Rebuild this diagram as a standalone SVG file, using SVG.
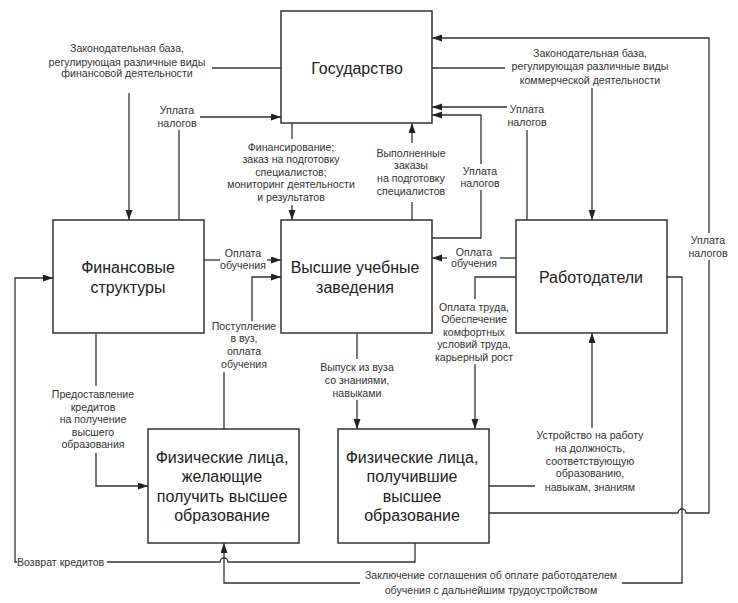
<svg xmlns="http://www.w3.org/2000/svg" width="738" height="603" viewBox="0 0 738 603">
<style>
.box{fill:#fff;stroke:#333;stroke-width:1.5}
.bt{font-family:"Liberation Sans",Arial,sans-serif;font-size:16px;fill:#222;text-anchor:middle}
.lt{font-family:"Liberation Sans",Arial,sans-serif;font-size:10.6px;fill:#333;text-anchor:middle}
.c{fill:none;stroke:#333;stroke-width:1.3}
.a{marker-end:url(#ar)}
</style>
<defs>
<marker id="ar" markerUnits="userSpaceOnUse" markerWidth="10" markerHeight="8" refX="10" refY="3.5" orient="auto">
<path d="M0,0 L10,3.5 L0,7 z" fill="#222"/>
</marker>
</defs>
<rect width="738" height="603" fill="#fff"/>

<g id="connectors">
<!-- Законодательная база (финансовой) -->
<path class="c" d="M281,68 H212"/>
<path class="c a" d="M129,93 V220"/>
<!-- Уплата налогов (Фин -> Гос) -->
<path class="c" d="M179,220 V130"/>
<path class="c a" d="M200,117 H281"/>
<!-- Финансирование -->
<path class="c" d="M292,123 V139"/>
<path class="c a" d="M292,205 V220"/>
<!-- Выполненные заказы -->
<path class="c" d="M412,220 V202"/>
<path class="c a" d="M412,143 V123"/>
<!-- Уплата налогов (ВУЗ -> Гос) -->
<path class="c" d="M432,238 H481 V190"/>
<path class="c a" d="M481,164 V115 H432"/>
<!-- Законодательная база (коммерческой) -->
<path class="c" d="M432,68 H505"/>
<path class="c a" d="M592,88 V220"/>
<!-- Уплата налогов (Работодатели -> Гос) -->
<path class="c" d="M527,220 V130"/>
<path class="c a" d="M507,107 H432"/>
<!-- Уплата налогов (Физ. получившие -> Гос) -->
<path class="c" d="M489,513 H678 a4,4 0 0 1 8,0 H709 V260"/>
<path class="c a" d="M709,233 V38 H432"/>
<!-- Оплата обучения (Работодатели -> ВУЗ) -->
<path class="c" d="M516,258 H500"/>
<path class="c a" d="M447,258 H432"/>
<!-- Оплата труда -->
<path class="c" d="M516,277 H475 V299"/>
<path class="c a" d="M475,364 V429"/>
<!-- Выпуск из вуза -->
<path class="c" d="M357,333 V359"/>
<path class="c a" d="M357,400 V429"/>
<!-- Оплата обучения (Фин -> ВУЗ) -->
<path class="c" d="M204,260 H220"/>
<path class="c a" d="M267,260 H281"/>
<!-- Поступление в вуз -->
<path class="c" d="M224,429 V372"/>
<path class="c a" d="M252,321 V277 H281"/>
<!-- Предоставление кредитов -->
<path class="c" d="M96,333 V386"/>
<path class="c a" d="M96,453 V486 H148"/>
<!-- Возврат кредитов -->
<path class="c" d="M415,543 V562 H228 a4,4 0 0 0 -8,0 H107"/>
<path class="c a" d="M17,562 H15 V278 H53"/>
<!-- Заключение соглашения -->
<path class="c" d="M667,277 H682 V583 H622"/>
<path class="c a" d="M360,583 H224 V543"/>
<!-- Устройство на работу -->
<path class="c" d="M489,486 H535"/>
<path class="c a" d="M592,428 V333"/>
</g>

<g id="labels">
<text class="lt"><tspan x="127" y="52">Законодательная база,</tspan><tspan x="127" y="65.5">регулирующая различные виды</tspan><tspan x="127" y="77">финансовой деятельности</tspan></text>
<text class="lt"><tspan x="177" y="113.5">Уплата</tspan><tspan x="177" y="126.5">налогов</tspan></text>
<text class="lt"><tspan x="291" y="150.5">Финансирование;</tspan><tspan x="291" y="163">заказ на подготовку</tspan><tspan x="291" y="175.5">специалистов;</tspan><tspan x="291" y="188">мониторинг деятельности</tspan><tspan x="291" y="200.5">и результатов</tspan></text>
<text class="lt"><tspan x="411" y="156.5">Выполненные</tspan><tspan x="411" y="169">заказы</tspan><tspan x="411" y="181.5">на подготовку</tspan><tspan x="411" y="195">специалистов</tspan></text>
<text class="lt"><tspan x="480" y="174.5">Уплата</tspan><tspan x="480" y="186.5">налогов</tspan></text>
<text class="lt"><tspan x="590" y="56.5">Законодательная база,</tspan><tspan x="590" y="70">регулирующая различные виды</tspan><tspan x="590" y="83.5">коммерческой деятельности</tspan></text>
<text class="lt"><tspan x="527" y="112.5">Уплата</tspan><tspan x="527" y="125.5">налогов</tspan></text>
<text class="lt"><tspan x="708" y="243.5">Уплата</tspan><tspan x="708" y="256.5">налогов</tspan></text>
<text class="lt"><tspan x="474" y="255.5">Оплата</tspan><tspan x="474" y="266.5">обучения</tspan></text>
<text class="lt"><tspan x="474" y="310.5">Оплата труда,</tspan><tspan x="474" y="323">Обеспечение</tspan><tspan x="474" y="335.5">комфортных</tspan><tspan x="474" y="348">условий труда,</tspan><tspan x="474" y="360.5">карьерный рост</tspan></text>
<text class="lt"><tspan x="357" y="370.5">Выпуск из вуза</tspan><tspan x="357" y="384">со знаниями,</tspan><tspan x="357" y="396.5">навыками</tspan></text>
<text class="lt"><tspan x="243" y="256.5">Оплата</tspan><tspan x="243" y="268.5">обучения</tspan></text>
<text class="lt"><tspan x="244" y="329.5">Поступление</tspan><tspan x="244" y="342">в вуз,</tspan><tspan x="244" y="355">оплата</tspan><tspan x="244" y="367.5">обучения</tspan></text>
<text class="lt"><tspan x="93" y="397.5">Предоставление</tspan><tspan x="93" y="410.5">кредитов</tspan><tspan x="93" y="422.5">на получение</tspan><tspan x="93" y="435.5">высшего</tspan><tspan x="93" y="447.5">образования</tspan></text>
<text class="lt" x="17" y="565.5" style="text-anchor:start">Возврат кредитов</text>
<text class="lt"><tspan x="491" y="578.5">Заключение соглашения об оплате работодателем</tspan><tspan x="491" y="593.5">обучения с дальнейшим трудоустройством</tspan></text>
<text class="lt"><tspan x="590" y="438.5">Устройство на работу</tspan><tspan x="590" y="451.5">на должность,</tspan><tspan x="590" y="464.5">соответствующую</tspan><tspan x="590" y="476.5">образованию,</tspan><tspan x="590" y="490.5">навыкам, знаниям</tspan></text>
</g>

<g id="gosudarstvo">
<rect class="box" x="281" y="11" width="151" height="112"/>
<text class="bt" x="357" y="73.5">Государство</text>
</g>
<g id="finansovye-struktury">
<rect class="box" x="53" y="220" width="151" height="113"/>
<text class="bt"><tspan x="128" y="272.5">Финансовые</tspan><tspan x="128" y="292.5">структуры</tspan></text>
</g>
<g id="vuzy">
<rect class="box" x="281" y="220" width="151" height="113"/>
<text class="bt"><tspan x="355" y="272.5">Высшие учебные</tspan><tspan x="355" y="292.5">заведения</tspan></text>
</g>
<g id="rabotodateli">
<rect class="box" x="516" y="220" width="151" height="113"/>
<text class="bt" x="591" y="282.5">Работодатели</text>
</g>
<g id="fiz-zhelayushchie">
<rect class="box" x="148" y="429" width="151" height="114"/>
<text class="bt"><tspan x="222" y="462.5">Физические лица,</tspan><tspan x="222" y="482">желающие</tspan><tspan x="222" y="501.5">получить высшее</tspan><tspan x="222" y="521">образование</tspan></text>
</g>
<g id="fiz-poluchivshie">
<rect class="box" x="338" y="429" width="151" height="114"/>
<text class="bt"><tspan x="412" y="462.5">Физические лица,</tspan><tspan x="412" y="482">получившие</tspan><tspan x="412" y="501.5">высшее</tspan><tspan x="412" y="521">образование</tspan></text>
</g>
</svg>
